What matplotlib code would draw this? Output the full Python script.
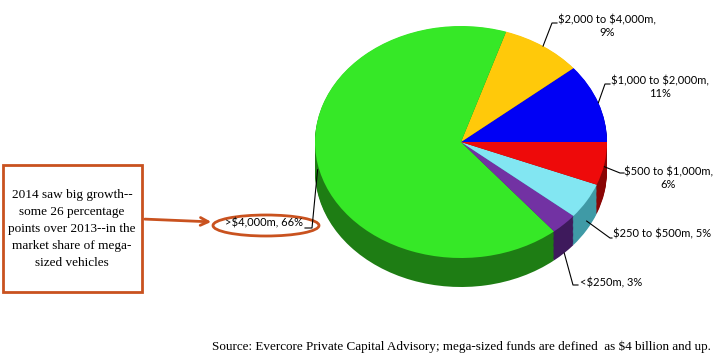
import numpy as np
import matplotlib
matplotlib.use("Agg")
import matplotlib.pyplot as plt
from matplotlib.patches import Ellipse, Rectangle

plt.rcParams['text.parse_math'] = False

# data (counter-clockwise from 3 o'clock)
labels = ['$1,000 to $2,000m,\n11%', '$2,000 to $4,000m,\n9%', '>$4,000m, 66%',
          '<$250m, 3%', '$250 to $500m, 5%', '$500 to $1,000m,\n6%']
shares = [11, 9, 66, 3, 5, 6]
top_colors = ['#0000F5', '#FFC90A', '#36E827', '#7232A3', '#82E6F2', '#EE0A0A']
side_colors = ['#00008A', '#9C7A00', '#1E7D14', '#3E1A5C', '#3F9AA6', '#8A0505']

note = "2014 saw big growth--\nsome 26 percentage\npoints over 2013--in the\nmarket share of mega-\nsized vehicles"
source = "Source: Evercore Private Capital Advisory; mega-sized funds are defined  as $4 billion and up."

W, H = 718, 358
cx, cy, rx, ry = 461, 142, 146, 116   # pie top face, pixels from top-left
depth = 0.25
orange = '#C9521F'

fig = plt.figure(figsize=(W / 100, H / 100), dpi=100)

# pie axes: unit circle -> ellipse
ylo = -1 - depth - 0.08
ax = fig.add_axes([(cx - rx) / W, (H - (cy - ry) - (1 - ylo) * ry) / H,
                   2 * rx / W, (1 - ylo) * ry / H])
for d in np.linspace(depth, 0.005, 25):
    ax.pie(shares, colors=side_colors, startangle=0, radius=1, center=(0, -d),
           wedgeprops=dict(linewidth=0), frame=False)
wedges, _ = ax.pie(shares, colors=top_colors, startangle=0, radius=1,
                   wedgeprops=dict(linewidth=0), frame=False)
ax.set_aspect('auto')
ax.set_xlim(-1, 1)
ax.set_ylim(ylo, 1)
ax.axis('off')

# annotation layer in pixel coords
an = fig.add_axes([0, 0, 1, 1])
an.set_xlim(0, W)
an.set_ylim(H, 0)
an.axis('off')

# leader lines: elbow, end, text position, alignment, extra depth for start
layout = [
    ((605, 84), (610, 84), (611, 87), 'left', 0),
    ((552, 23), (557, 23), (558, 26), 'left', 0),
    ((312, 228), (305, 228), (303, 223), 'right', 6),
    ((573, 285), (578, 285), (580, 283), 'left', 29),
    ((610, 238), (612, 238), (613, 234), 'left', 20),
    ((620, 173), (624, 173), (624, 178), 'left', 3),
]
cum = np.cumsum([0] + shares) / sum(shares) * 360
for i, (lab, (elb, end, tpos, ha, dd)) in enumerate(zip(labels, layout)):
    mid = np.radians((cum[i] + cum[i + 1]) / 2)
    sx = cx + rx * np.cos(mid)
    sy = cy - ry * np.sin(mid) + dd
    an.plot([sx, elb[0], end[0]], [sy, elb[1], end[1]], color='black', lw=0.8)
    an.text(tpos[0], tpos[1], lab, ha=ha, va='center', multialignment='center',
            fontsize=8, family='Lato', color='black', linespacing=1.2)

# callout
an.add_patch(Ellipse((266, 225.5), 106, 21, fill=False, ec=orange, lw=2))
an.add_patch(Rectangle((3, 165), 139, 127, fill=False, ec=orange, lw=2))
an.annotate('', xy=(214, 222), xytext=(142, 219),
            arrowprops=dict(arrowstyle='->', color=orange, lw=2, mutation_scale=14))
an.text(72, 229, note, ha='center', va='center', multialignment='center',
        fontsize=9.5, family='Liberation Serif', linespacing=1.55)

an.text(212, 347, source, ha='left', va='center', fontsize=9.45,
        family='Liberation Serif')

fig.savefig('out.png', dpi=100)
